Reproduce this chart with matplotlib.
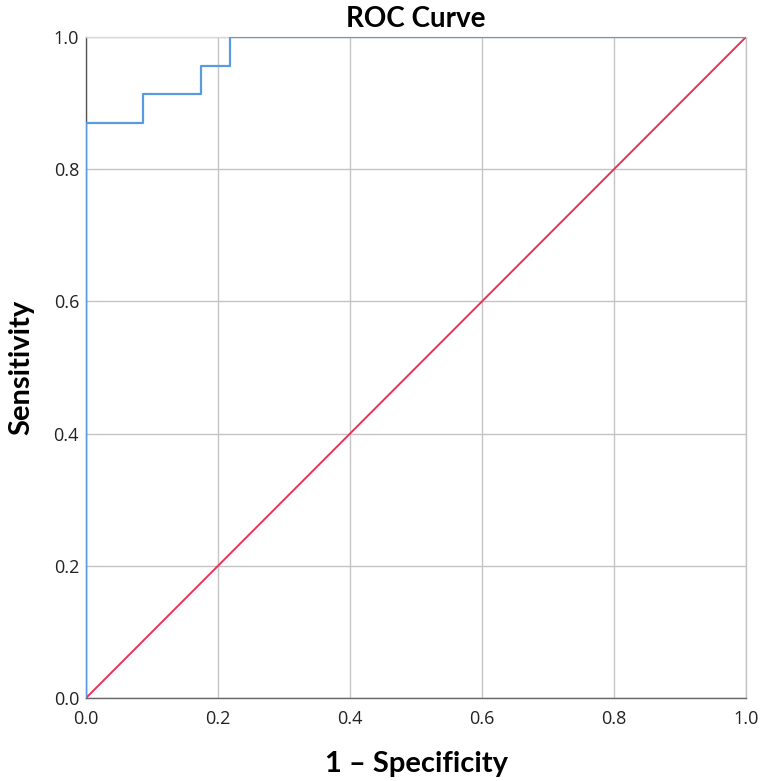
import matplotlib.pyplot as plt
import numpy as np

# ROC curve steps (1 - specificity, sensitivity)
fpr = [0.0, 0.0, 2 / 23, 2 / 23, 4 / 23, 4 / 23, 5 / 23, 5 / 23, 1.0]
tpr = [0.0, 20 / 23, 20 / 23, 21 / 23, 21 / 23, 22 / 23, 22 / 23, 1.0, 1.0]
ref = [0.0, 1.0]
ticks = [0.0, 0.2, 0.4, 0.6, 0.8, 1.0]

plt.rcParams["font.family"] = ["Lato", "DejaVu Sans"]

fig = plt.figure(figsize=(7.62, 7.81), dpi=100)
ax = fig.add_axes([0.1129, 0.1063, 0.8661, 0.8463])

ax.plot(ref, ref, color="#e8325a", linewidth=1.4, zorder=3)
ax.plot(fpr, tpr, color="#5a9be0", linewidth=1.6, zorder=4)

ax.set_xlim(0, 1)
ax.set_ylim(0, 1)
ax.set_xticks(ticks)
ax.set_yticks(ticks)
ax.set_xticklabels([f"{t:.1f}" for t in ticks], fontsize=13, family=["Open Sans", "DejaVu Sans"])
ax.set_yticklabels([f"{t:.1f}" for t in ticks], fontsize=13, family=["Open Sans", "DejaVu Sans"])
ax.tick_params(axis="x", length=0, pad=9, colors="#222222")
ax.tick_params(axis="y", length=0, pad=5, colors="#222222")
ax.grid(True, color="#c4c4c4", linewidth=1.0)
ax.set_axisbelow(True)

ax.spines["top"].set_color("#d8d8d8")
ax.spines["right"].set_color("#c4c4c4")
ax.spines["left"].set_color("#555555")
ax.spines["bottom"].set_color("#666666")
for s in ax.spines.values():
    s.set_linewidth(1.0)

ax.set_title("ROC Curve", fontsize=20, fontweight="bold", pad=7)
ax.set_xlabel("1 \u2013 Specificity", fontsize=21, fontweight="bold", labelpad=16)
ax.set_ylabel("Sensitivity", fontsize=21, fontweight="bold", labelpad=14)

fig.savefig("out.png", dpi=100)
